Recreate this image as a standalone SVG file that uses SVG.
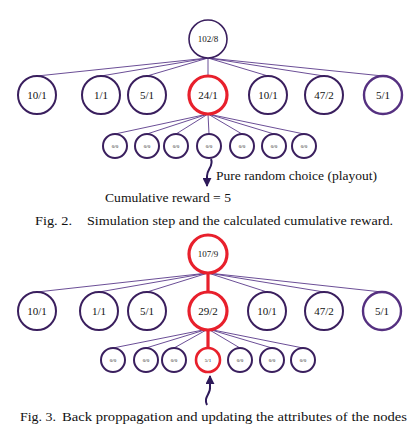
<svg xmlns="http://www.w3.org/2000/svg" width="418" height="440" viewBox="0 0 418 440">
<defs>
<style>
.n{fill:#fff;stroke:#3a1f5e;stroke-width:2}
.n2{fill:#fff;stroke:#553080;stroke-width:2.4}
.r{fill:#fff;stroke:#e8202c;stroke-width:3.2}
.rl{stroke:#e8202c;stroke-width:3.2}
.l{stroke:#5a3a8a;stroke-width:0.9;fill:none}
.arr{stroke:#2e1a5a;stroke-width:2;fill:none}
</style>
<marker id="ah" viewBox="0 0 10 10" refX="9" refY="5" markerWidth="4.5" markerHeight="4.5" orient="auto" markerUnits="strokeWidth">
<path d="M0,0 L10,5 L0,10 z" fill="#2e1a5a"/>
</marker>
</defs>

<g id="connectors">
<line class="l" x1="208" y1="58" x2="37" y2="76"/>
<line class="l" x1="208" y1="58" x2="101" y2="76"/>
<line class="l" x1="208" y1="58" x2="147" y2="76"/>
<line class="l" x1="208" y1="58" x2="208" y2="76"/>
<line class="l" x1="208" y1="58" x2="268" y2="76"/>
<line class="l" x1="208" y1="58" x2="324" y2="76"/>
<line class="l" x1="208" y1="58" x2="383" y2="76"/>
<line class="l" x1="208" y1="114" x2="115" y2="134"/>
<line class="l" x1="208" y1="114" x2="147" y2="134"/>
<line class="l" x1="208" y1="114" x2="176" y2="134"/>
<line class="l" x1="208" y1="114" x2="209" y2="134"/>
<line class="l" x1="208" y1="114" x2="242" y2="134"/>
<line class="l" x1="208" y1="114" x2="274" y2="134"/>
<line class="l" x1="208" y1="114" x2="304" y2="134"/>
<path class="arr" d="M211,159 C214,166 207,169 207,176 L207,186" marker-end="url(#ah)"/>
<line class="l" x1="208" y1="273" x2="37" y2="292"/>
<line class="l" x1="208" y1="273" x2="99" y2="292"/>
<line class="l" x1="208" y1="273" x2="147" y2="292"/>
<line class="l" x1="208" y1="273" x2="267" y2="292"/>
<line class="l" x1="208" y1="273" x2="324" y2="292"/>
<line class="l" x1="208" y1="273" x2="382" y2="292"/>
<line class="rl" x1="208" y1="273" x2="208" y2="292"/>
<line class="l" x1="208" y1="329" x2="113" y2="348"/>
<line class="l" x1="208" y1="329" x2="146" y2="348"/>
<line class="l" x1="208" y1="329" x2="174" y2="348"/>
<line class="l" x1="208" y1="329" x2="240" y2="348"/>
<line class="l" x1="208" y1="329" x2="272" y2="348"/>
<line class="l" x1="208" y1="329" x2="303" y2="348"/>
<line class="rl" x1="208" y1="329" x2="208" y2="348"/>
<path class="arr" d="M207,405 C203,397 211,394 210,387 L210,376" marker-end="url(#ah)"/>
</g>

<g font-family="Liberation Serif, Times New Roman, serif" fill="#111" text-anchor="middle">
<g id="f2-root"><circle class="n" cx="208" cy="39" r="19" style="stroke-width:1.6"/><text font-size="9" x="208" y="42">102/8</text></g>
<g id="f2-a"><circle class="n" cx="37" cy="95" r="19"/><text font-size="11" x="37" y="99">10/1</text></g>
<g id="f2-b"><circle class="n" cx="101" cy="95" r="19"/><text font-size="11" x="101" y="99">1/1</text></g>
<g id="f2-c"><circle class="n" cx="147" cy="95" r="19"/><text font-size="11" x="147" y="99">5/1</text></g>
<g id="f2-d"><circle class="r" cx="208" cy="95" r="19"/><text font-size="11" x="208" y="99">24/1</text></g>
<g id="f2-e"><circle class="n" cx="268" cy="95" r="19"/><text font-size="11" x="268" y="99">10/1</text></g>
<g id="f2-f"><circle class="n" cx="324" cy="95" r="19"/><text font-size="11" x="324" y="99">47/2</text></g>
<g id="f2-g"><circle class="n2" cx="383" cy="95" r="19"/><text font-size="11" x="383" y="99">5/1</text></g>
<g id="f2-s1"><circle class="n" cx="115" cy="146" r="12"/><text font-size="5" x="115" y="148">0/0</text></g>
<g id="f2-s2"><circle class="n" cx="147" cy="146" r="12"/><text font-size="5" x="147" y="148">0/0</text></g>
<g id="f2-s3"><circle class="n" cx="176" cy="146" r="12"/><text font-size="5" x="176" y="148">0/0</text></g>
<g id="f2-s4"><circle class="n" cx="209" cy="146" r="12"/><text font-size="5" x="209" y="148">0/0</text></g>
<g id="f2-s5"><circle class="n" cx="242" cy="146" r="12"/><text font-size="5" x="242" y="148">0/0</text></g>
<g id="f2-s6"><circle class="n" cx="274" cy="146" r="12"/><text font-size="5" x="274" y="148">0/0</text></g>
<g id="f2-s7"><circle class="n" cx="304" cy="146" r="12"/><text font-size="5" x="304" y="148">0/0</text></g>

<g font-size="13" text-anchor="start">
<text x="216" y="180" textLength="161" lengthAdjust="spacingAndGlyphs">Pure random choice (playout)</text>
<text x="105" y="202" textLength="126" lengthAdjust="spacingAndGlyphs">Cumulative reward = 5</text>
<text x="35" y="225" textLength="37" lengthAdjust="spacingAndGlyphs">Fig. 2.</text>
<text x="87" y="225" textLength="306" lengthAdjust="spacingAndGlyphs">Simulation step and the calculated cumulative reward.</text>
</g>

<g id="f3-root"><circle class="r" cx="208" cy="254" r="19"/><text font-size="9" x="208" y="257">107/9</text></g>
<g id="f3-a"><circle class="n" cx="37" cy="311" r="19"/><text font-size="11" x="37" y="315">10/1</text></g>
<g id="f3-b"><circle class="n" cx="99" cy="311" r="19"/><text font-size="11" x="99" y="315">1/1</text></g>
<g id="f3-c"><circle class="n" cx="147" cy="311" r="19"/><text font-size="11" x="147" y="315">5/1</text></g>
<g id="f3-d"><circle class="r" cx="208" cy="311" r="19"/><text font-size="11" x="208" y="315">29/2</text></g>
<g id="f3-e"><circle class="n" cx="267" cy="311" r="19"/><text font-size="11" x="267" y="315">10/1</text></g>
<g id="f3-f"><circle class="n" cx="324" cy="311" r="19"/><text font-size="11" x="324" y="315">47/2</text></g>
<g id="f3-g"><circle class="n2" cx="382" cy="311" r="19"/><text font-size="11" x="382" y="315">5/1</text></g>
<g id="f3-s1"><circle class="n" cx="113" cy="360" r="12"/><text font-size="5" x="113" y="362">0/0</text></g>
<g id="f3-s2"><circle class="n" cx="146" cy="360" r="12"/><text font-size="5" x="146" y="362">0/0</text></g>
<g id="f3-s3"><circle class="n" cx="174" cy="360" r="12"/><text font-size="5" x="174" y="362">0/0</text></g>
<g id="f3-s4"><circle class="r" cx="208" cy="360" r="12" style="stroke-width:2.6"/><text font-size="5" x="208" y="362">5/1</text></g>
<g id="f3-s5"><circle class="n" cx="240" cy="360" r="12"/><text font-size="5" x="240" y="362">0/0</text></g>
<g id="f3-s6"><circle class="n" cx="272" cy="360" r="12"/><text font-size="5" x="272" y="362">0/0</text></g>
<g id="f3-s7"><circle class="n" cx="303" cy="360" r="12"/><text font-size="5" x="303" y="362">0/0</text></g>

<g font-size="13" text-anchor="start">
<text x="20" y="421" textLength="36" lengthAdjust="spacingAndGlyphs">Fig. 3.</text>
<text x="62" y="421" textLength="345" lengthAdjust="spacingAndGlyphs">Back proppagation and updating the attributes of the nodes</text>
</g>
</g>
</svg>
